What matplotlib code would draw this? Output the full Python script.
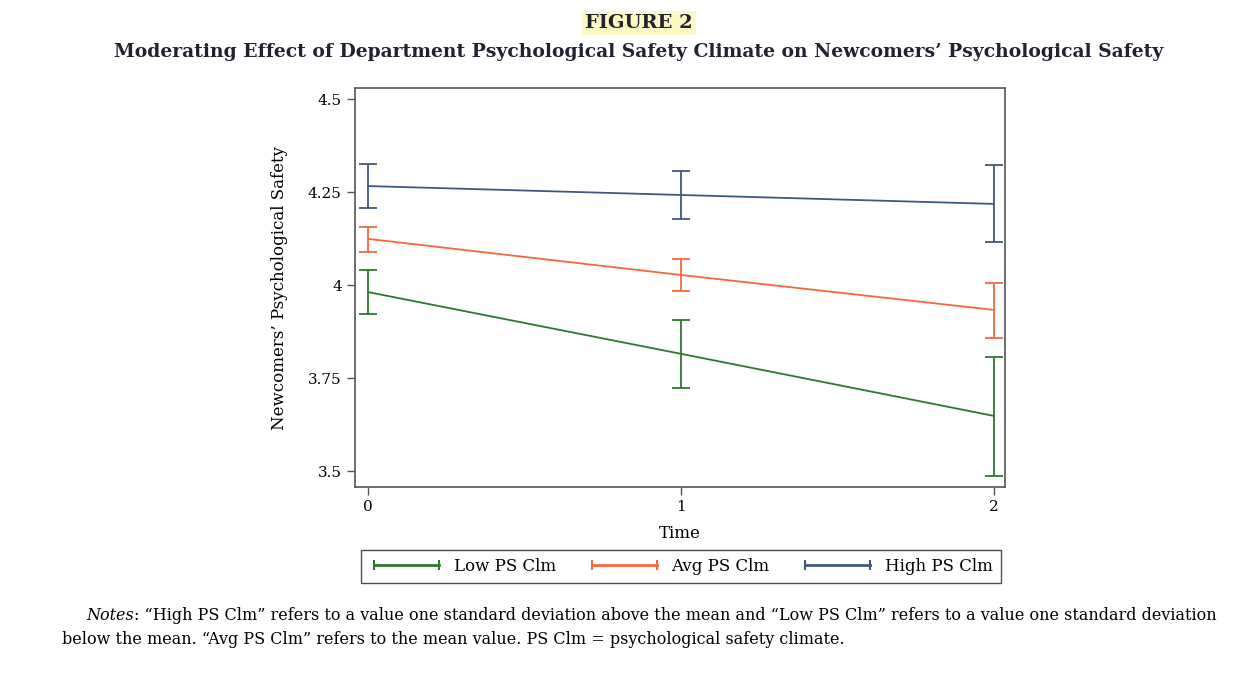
import matplotlib
matplotlib.use("Agg")
import matplotlib.pyplot as plt
from matplotlib.lines import Line2D
import numpy as np

time = [0, 1, 2]
series = ["Low PS Clm", "Avg PS Clm", "High PS Clm"]
low_mean = [3.981, 3.815, 3.648]
low_lo = [3.922, 3.723, 3.487]
low_hi = [4.040, 3.906, 3.806]
avg_mean = [4.124, 4.027, 3.933]
avg_lo = [4.089, 3.984, 3.858]
avg_hi = [4.156, 4.070, 4.005]
high_mean = [4.266, 4.242, 4.218]
high_lo = [4.207, 4.177, 4.116]
high_hi = [4.325, 4.306, 4.323]
yticks = [3.5, 3.75, 4.0, 4.25, 4.5]
ytick_labels = ["3.5", "3.75", "4", "4.25", "4.5"]
colors = ["#2c7a2e", "#f26a3a", "#3e5a7e"]

plt.rcParams['font.family'] = ['DejaVu Serif']

fig = plt.figure(figsize=(12.55, 6.76), dpi=100)
W, H = 1255, 676
ax = fig.add_axes([355 / W, 1 - 487 / H, (1005 - 355) / W, (487 - 88) / H])

data = [(low_mean, low_lo, low_hi), (avg_mean, avg_lo, avg_hi), (high_mean, high_lo, high_hi)]
for (m, lo, hi), c in zip(data, colors):
    m = np.array(m); lo = np.array(lo); hi = np.array(hi)
    ax.errorbar(time, m, yerr=[m - lo, hi - m], color=c, lw=1.3, elinewidth=1.3,
                capsize=6.5, capthick=1.3)

ax.set_xlim(-0.0415, 2.035)
ax.set_ylim(3.457, 4.5296)
ax.set_yticks(yticks)
ax.set_yticklabels(ytick_labels, fontsize=11)
ax.set_xticks(time)
ax.set_xticklabels([str(t) for t in time], fontsize=11)
ax.tick_params(axis='both', length=6, width=1, color='#555555', direction='out')
for s in ax.spines.values():
    s.set_color('#555555')
    s.set_linewidth(1.2)
ax.set_xlabel("Time", fontsize=12, labelpad=8)
ax.set_ylabel("Newcomers\u2019 Psychological Safety", fontsize=12, labelpad=14)

handles = [Line2D([0, 1], [0, 0], color=c, lw=2, marker='|', markersize=7, markeredgewidth=1.5)
           for c in colors]
leg = fig.legend(handles, series, loc='center', bbox_to_anchor=(681 / W, 1 - 566.5 / H),
                 ncol=3, fontsize=12, frameon=True, fancybox=False, numpoints=2,
                 handlelength=4.5, columnspacing=1.8, handletextpad=0.6,
                 borderpad=0.5, borderaxespad=0, edgecolor='#222222')
leg.get_frame().set_linewidth(1.0)

fig.text(639 / W, 1 - 23 / H, "FIGURE 2", ha='center', va='center', fontsize=14,
         fontweight='bold', color='#222233',
         bbox=dict(boxstyle='square,pad=0.15', facecolor='#fdf7c3', edgecolor='none'))
fig.text(639 / W, 1 - 52 / H,
         "Moderating Effect of Department Psychological Safety Climate on Newcomers\u2019 Psychological Safety",
         ha='center', va='center', fontsize=13.5, fontweight='bold', color='#222233')

fs_note = 11.55
t_notes = fig.text(86 / W, 1 - 616 / H, "Notes", ha='left', va='center', fontsize=fs_note, style='italic')
fig.canvas.draw()
bb = t_notes.get_window_extent(renderer=fig.canvas.get_renderer())
fig.text(bb.x1 / W + 0.5 / W, 1 - 616 / H,
         ": \u201cHigh PS Clm\u201d refers to a value one standard deviation above the mean and \u201cLow PS Clm\u201d refers to a value one standard deviation",
         ha='left', va='center', fontsize=fs_note)
fig.text(62 / W, 1 - 639 / H,
         "below the mean. \u201cAvg PS Clm\u201d refers to the mean value. PS Clm = psychological safety climate.",
         ha='left', va='center', fontsize=fs_note)

fig.savefig("out.png", dpi=100)
